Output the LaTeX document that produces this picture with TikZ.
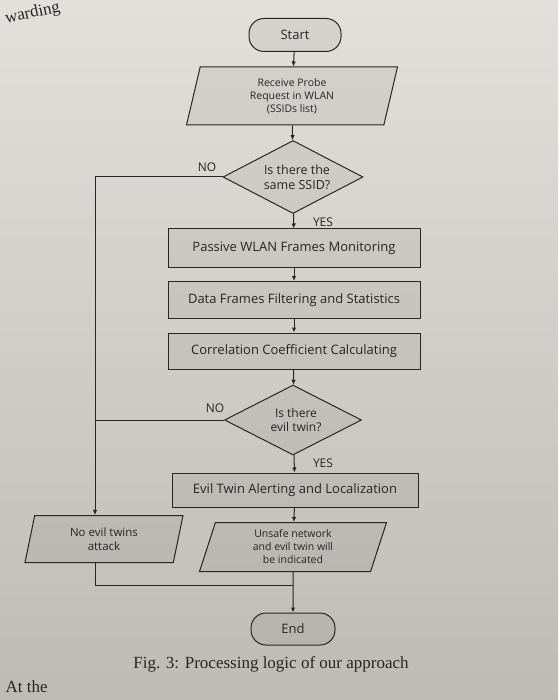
\documentclass[tikz,border=0pt]{standalone}
\usepackage{fontspec}
\setmainfont{Liberation Serif}
\newfontfamily\boxfont{Open Sans}
\usetikzlibrary{shapes.geometric,arrows.meta}
\definecolor{ink}{HTML}{262626}
\definecolor{papertop}{HTML}{E3E0DB}
\definecolor{paperbot}{HTML}{BEBAB4}
\begin{document}
\begin{tikzpicture}[x=1pt,y=-1pt,
  every node/.style={text=ink},
  boxfill/.style={draw=ink, line width=1pt, fill=black, fill opacity=0.05, text opacity=1, inner sep=0pt, align=center},
  procbox/.style={boxfill, rectangle, minimum width=252pt, minimum height=37pt, font=\boxfont\fontsize{13}{15}\selectfont},
  term/.style={boxfill, rectangle, rounded corners=15pt, minimum width=92pt, minimum height=33pt, font=\boxfont\fontsize{13}{14}\selectfont},
  iobox/.style={boxfill, trapezium, trapezium stretches body=true, trapezium left angle=#1, trapezium right angle={180-#1}},
  decision/.style={boxfill, diamond},
  dtext/.style={align=center, inner sep=0pt, font=\boxfont\fontsize{12.5}{15}\selectfont},
  yesno/.style={inner sep=0pt, font=\boxfont\fontsize{12}{14}\selectfont},
  line/.style={draw=ink, line width=1pt},
  arr/.style={line, -{Latex[length=5pt,width=4.5pt]}}]
\useasboundingbox (0,0) rectangle (558,700);
\shade[top color=papertop, bottom color=paperbot] (0,0) rectangle (558,700);

% page text fragments
\node[rotate=12, anchor=west, font=\fontsize{17}{20}\selectfont] (pgtop) at (2,20) {warding};
\node[anchor=west, font=\fontsize{17}{20}\selectfont] (pgbot) at (2,687) {At the};

% nodes
\node[term] (start) at (295,35) {Start};
\node[iobox=69, minimum width=211pt, minimum height=58pt, font=\boxfont\fontsize{10.5}{13}\selectfont] (recv) at (292,96) {Receive Probe\\Request in WLAN\\(SSIDs list)};
\node[decision, minimum width=140pt, minimum height=73pt] (d1) at (293,177) {};
\node[dtext] (d1t) at (297,177) {Is there the\\same SSID?};
\node[yesno] (no1) at (207,167) {NO};
\node[yesno] (yes1) at (323,222) {YES};

\node[procbox, minimum height=38pt] (b1) at (294,248) {Passive WLAN Frames Monitoring};
\node[procbox] (b2) at (294,300) {Data Frames Filtering and Statistics};
\node[procbox, minimum height=36pt] (b3) at (294,351) {Correlation Coefficient Calculating};

\node[decision, minimum width=137pt, minimum height=70pt] (d2) at (293,420) {};
\node[dtext, font=\boxfont\fontsize{12}{14.5}\selectfont] (d2t) at (296,420) {Is there\\evil twin?};
\node[yesno] (no2) at (215,408) {NO};
\node[yesno] (yes2) at (323,463) {YES};

\node[procbox, minimum width=246pt, minimum height=34pt] (b4) at (295,490) {Evil Twin Alerting and Localization};

\node[iobox=67, minimum width=158pt, minimum height=47pt, font=\boxfont\fontsize{11.5}{14}\selectfont] (noevil) at (104,539) {No evil twins\\attack};
\node[iobox=65, minimum width=187pt, minimum height=49pt, font=\boxfont\fontsize{10.5}{13}\selectfont] (unsafe) at (293,547) {Unsafe network\\and evil twin will\\be indicated};

\node[term, minimum width=84pt, minimum height=32pt] (end) at (293,629) {End};

\node[font=\fontsize{17}{20}\selectfont] (cap) at (271,664) {Fig. 3: Processing logic of our approach};

% connectors
\coordinate (L) at (95,0);
\coordinate (M) at (0,585);
\draw[arr] (start) -- (recv);
\draw[arr] (recv) -- (d1);
\draw[arr] (d1) -- (b1);
\draw[arr] (b1) -- (b2);
\draw[arr] (b2) -- (b3);
\draw[arr] (b3) -- (d2);
\draw[arr] (d2) -- (b4);
\draw[arr] (b4) -- (unsafe);
\draw[arr] (d1.west) -- (d1.west -| L) -- (L |- noevil.north);
\draw[line] (d2.west) -- (d2.west -| L);
\draw[line] (L |- noevil.south) -- (L |- M) -- (M -| unsafe.south);
\draw[arr] (unsafe.south) -- (end);
\end{tikzpicture}
\end{document}
